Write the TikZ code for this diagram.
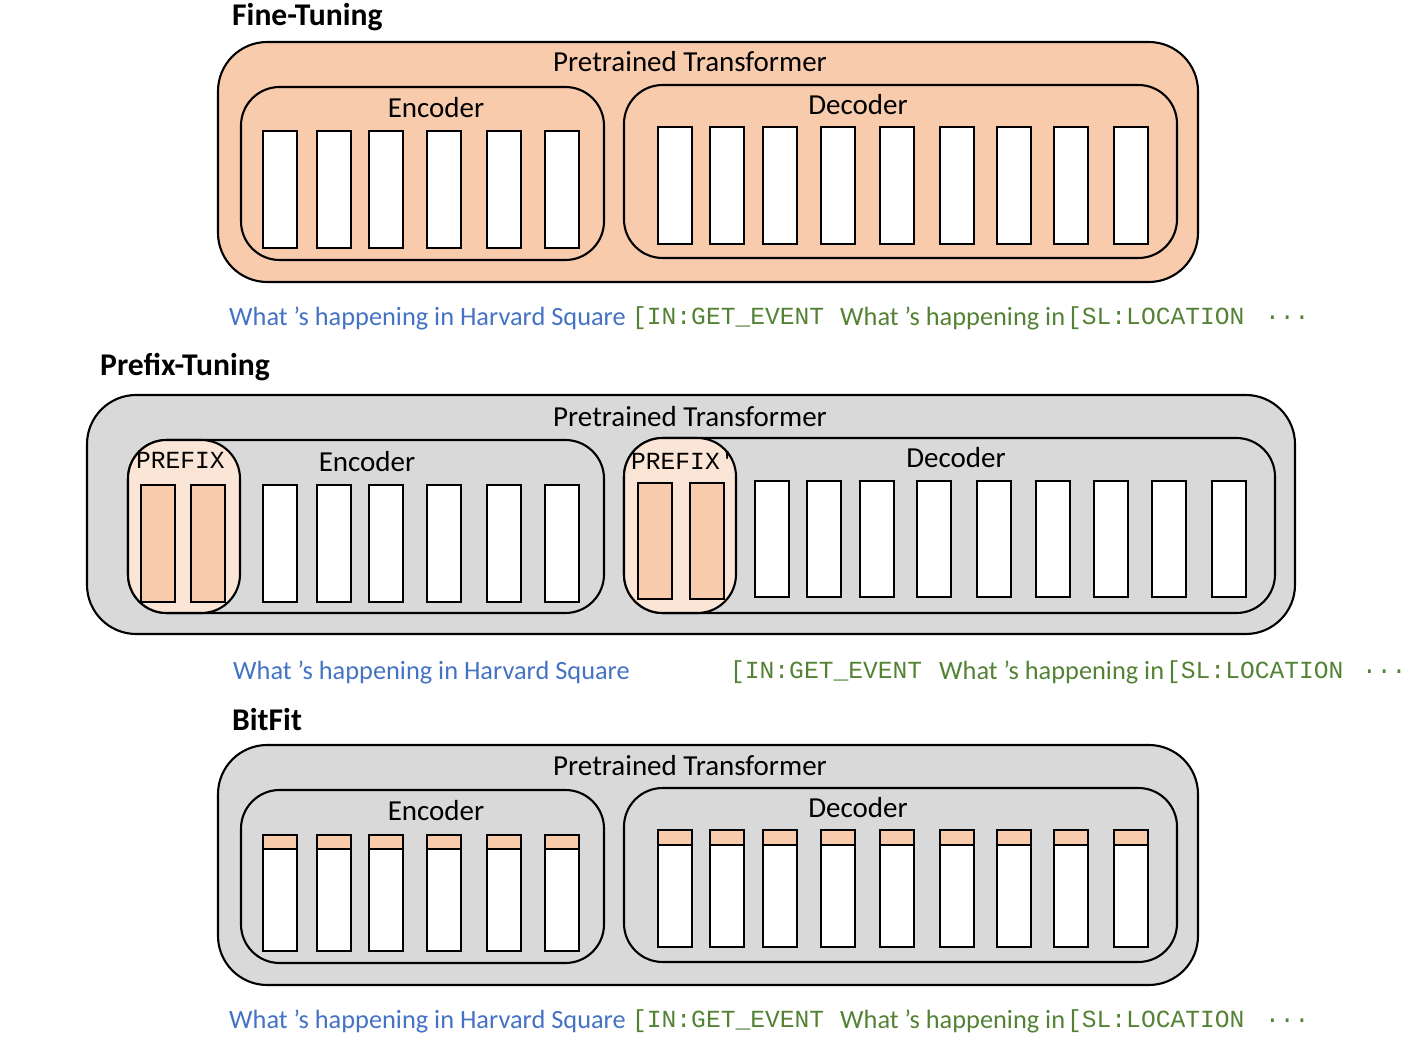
\documentclass[tikz,border=0pt]{standalone}
\usepackage{fontspec}
\setmainfont{Carlito}
\newfontfamily\monofont{Liberation Mono}
\usepackage{xcolor}
\definecolor{peach}{HTML}{F8CBAD}
\definecolor{lightpeach}{HTML}{FBE5D6}
\definecolor{boxgray}{HTML}{D9D9D9}
\definecolor{inblue}{HTML}{4472C4}
\definecolor{outgreen}{HTML}{548235}
\tikzset{
  outer/.style={draw, line width=1.2pt, rounded corners=28pt},
  inner/.style={draw, line width=1.2pt, rounded corners=22pt},
  bar/.style={draw, fill=white, line width=1.2pt},
  lbl/.style={font=\fontsize{16.5}{19}\selectfont},
  ttl/.style={font=\fontsize{18}{21}\selectfont\bfseries, anchor=west},
  intext/.style={font=\fontsize{15}{17}\selectfont, text=inblue, anchor=west},
  outtext/.style={font=\fontsize{15}{17}\selectfont, text=outgreen, anchor=west},
  mono/.style={font=\fontsize{14}{17}\monofont, text=outgreen, anchor=west},
}
\begin{document}
\begin{tikzpicture}[x=0.02cm,y=-0.02cm]
		\useasboundingbox (0,0) rectangle (1404,1040);
		
		% Fine-Tuning
		\node[ttl] (ftTitle) at (226,17) {Fine-Tuning};
		\draw[outer, fill=peach] (218,42) rectangle (1198,282);
		\node[lbl] (ftPT) at (690,62) {Pretrained Transformer};
		\draw[inner] (241,87) rectangle (604,260);
		\node[lbl] (ftEnc) at (436,108) {Encoder};
		\draw[inner] (624,85) rectangle (1177,258);
		\node[lbl] (ftDec) at (858,105) {Decoder};
		\foreach \x in {280,334,386,444,504,562}
			\draw[bar] (\x-17,131) rectangle (\x+17,248);
		\foreach \x in {675,727,780,838,897,957,1014,1071,1131}
			\draw[bar] (\x-17,127) rectangle (\x+17,244);
		\node[intext] (ftIn) at (223,318) {What 's happening in Harvard Square};
		\node[mono] (ftA) at (626,318) {[IN:GET\_EVENT};
		\node[outtext] (ftB) at (834,318) {What 's happening in};
		\node[mono] (ftC) at (1061,318) {[SL:LOCATION};
		\node[mono] (ftD) at (1259,318) {...};
		
		% Prefix-Tuning
		\node[ttl] (pfTitle) at (94,367) {Prefix-Tuning};
		\draw[outer, fill=boxgray] (87,395) rectangle (1295,634);
		\node[lbl] (pfPT) at (690,417) {Pretrained Transformer};
		\draw[inner] (128,440) rectangle (604,613);
		\draw[inner, fill=lightpeach] (128,440) rectangle (240,613);
		\node[mono, text=black] (pfP) at (130,460) {PREFIX};
		\node[lbl] (pfEnc) at (367,462) {Encoder};
		\draw[inner] (624,438) rectangle (1275,613);
		\draw[inner, fill=lightpeach] (624,438) rectangle (736,613);
		\node[mono, text=black] (pfQ) at (625,461) {PREFIX'};
		\node[lbl] (pfDec) at (956,458) {Decoder};
		\foreach \x in {158,208}
			\draw[bar, fill=peach] (\x-17,485) rectangle (\x+17,602);
		\foreach \x in {655,707}
			\draw[bar, fill=peach] (\x-17,483) rectangle (\x+17,599);
		\foreach \x in {280,334,386,444,504,562}
			\draw[bar] (\x-17,485) rectangle (\x+17,602);
		\foreach \x in {772,824,877,934,994,1053,1111,1169,1229}
			\draw[bar] (\x-17,481) rectangle (\x+17,597);
		\node[intext] (pfIn) at (227,672) {What 's happening in Harvard Square};
		\node[mono] (pfA) at (724,672) {[IN:GET\_EVENT};
		\node[outtext] (pfB) at (933,672) {What 's happening in};
		\node[mono] (pfC) at (1160,672) {[SL:LOCATION};
		\node[mono] (pfD) at (1356,672) {...};
		
		% BitFit
		\node[ttl] (bfTitle) at (226,720) {BitFit};
		\draw[outer, fill=boxgray] (218,745) rectangle (1198,985);
		\node[lbl] (bfPT) at (690,766) {Pretrained Transformer};
		\draw[inner] (241,790) rectangle (604,963);
		\node[lbl] (bfEnc) at (436,811) {Encoder};
		\draw[inner] (624,788) rectangle (1177,962);
		\node[lbl] (bfDec) at (858,808) {Decoder};
		\foreach \x in {280,334,386,444,504,562}{
			\draw[bar] (\x-17,835) rectangle (\x+17,951);
			\draw[bar, fill=peach] (\x-17,835) rectangle (\x+17,849);}
		\foreach \x in {675,727,780,838,897,957,1014,1071,1131}{
			\draw[bar] (\x-17,830) rectangle (\x+17,947);
			\draw[bar, fill=peach] (\x-17,830) rectangle (\x+17,845);}
		\node[intext] (bfIn) at (223,1021) {What 's happening in Harvard Square};
		\node[mono] (bfA) at (626,1021) {[IN:GET\_EVENT};
		\node[outtext] (bfB) at (834,1021) {What 's happening in};
		\node[mono] (bfC) at (1061,1021) {[SL:LOCATION};
		\node[mono] (bfD) at (1259,1021) {...};
		
\end{tikzpicture}
\end{document}
